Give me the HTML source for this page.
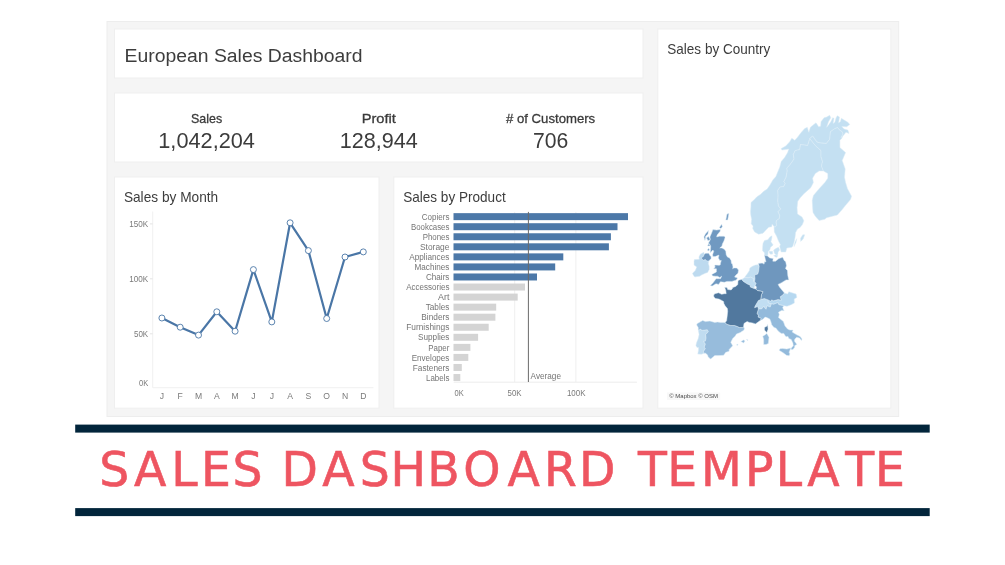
<!DOCTYPE html>
<html lang="en"><head><meta charset="utf-8"><title>Sales Dashboard Template</title>
<style>
html,body{margin:0;padding:0;background:#fff;}
body{width:1005px;height:565px;overflow:hidden;position:relative;font-family:"Liberation Sans",sans-serif;}
svg{position:absolute;left:0;top:0;display:block;}
text{font-family:"Liberation Sans",sans-serif;}
.pt{fill:#3d3d3d;}
.ax{fill:#7a7a7a;font-size:8.6px;}
.lb{fill:#757575;font-size:8.9px;}
.kl{fill:#3a3a3a;font-size:13.5px;stroke:#3a3a3a;stroke-width:.3px;}
.kv{fill:#3c3c3c;font-size:21.8px;}
.hl{font-family:"DejaVu Sans","Liberation Sans",sans-serif;}
</style></head><body>
<svg width="1005" height="565" viewBox="0 0 1005 565">

<g id="dashboard-frame">
<rect x="107" y="21.5" width="791.7" height="395" fill="#f5f5f5" stroke="#ededed" stroke-width="1"/>
<rect x="114.5" y="29.0" width="528.5" height="49.0" fill="#fff" stroke="#efefef" stroke-width="1"/>
<rect x="114.5" y="93.0" width="528.5" height="69.0" fill="#fff" stroke="#efefef" stroke-width="1"/>
<rect x="114.5" y="177.0" width="264.5" height="231.2" fill="#fff" stroke="#efefef" stroke-width="1"/>
<rect x="393.8" y="177.0" width="249.2" height="231.2" fill="#fff" stroke="#efefef" stroke-width="1"/>
<rect x="657.8" y="29.0" width="233.0" height="379.2" fill="#fff" stroke="#efefef" stroke-width="1"/>
</g>
<g id="panel-titles">
<text class="pt" x="124.5" y="61.6" font-size="19.2" textLength="238" lengthAdjust="spacingAndGlyphs">European Sales Dashboard</text>
<text class="pt" x="123.9" y="201.8" font-size="14.4" textLength="94.3" lengthAdjust="spacingAndGlyphs">Sales by Month</text>
<text class="pt" x="403.2" y="202.1" font-size="14.4" textLength="102.5" lengthAdjust="spacingAndGlyphs">Sales by Product</text>
<text class="pt" x="667.3" y="53.9" font-size="14.2" textLength="103" lengthAdjust="spacingAndGlyphs">Sales by Country</text>
</g>
<g id="kpis">
<text class="kl" x="206.6" y="123.1" text-anchor="middle" textLength="31.1" lengthAdjust="spacingAndGlyphs">Sales</text>
<text class="kv" x="206.6" y="148.2" text-anchor="middle" textLength="96.7" lengthAdjust="spacingAndGlyphs">1,042,204</text>
<text class="kl" x="378.8" y="123.1" text-anchor="middle" textLength="34.2" lengthAdjust="spacingAndGlyphs">Profit</text>
<text class="kv" x="378.8" y="148.2" text-anchor="middle" textLength="78.0" lengthAdjust="spacingAndGlyphs">128,944</text>
<text class="kl" x="550.6" y="123.1" text-anchor="middle" textLength="89.1" lengthAdjust="spacingAndGlyphs"># of Customers</text>
<text class="kv" x="550.6" y="148.2" text-anchor="middle" textLength="35.3" lengthAdjust="spacingAndGlyphs">706</text>
</g>
<g id="sales-by-month">
<line x1="152.7" y1="211.5" x2="152.7" y2="387.7" stroke="#f0f0f0" stroke-width="1"/>
<line x1="152.7" y1="387.7" x2="373.4" y2="387.7" stroke="#f0f0f0" stroke-width="1"/>
<line x1="150" y1="223.9" x2="152.7" y2="223.9" stroke="#e4e4e4" stroke-width="1"/>
<text class="ax" x="148.2" y="226.9" text-anchor="end" textLength="19.0" lengthAdjust="spacingAndGlyphs">150K</text>
<line x1="150" y1="278.8" x2="152.7" y2="278.8" stroke="#e4e4e4" stroke-width="1"/>
<text class="ax" x="148.2" y="281.8" text-anchor="end" textLength="19.0" lengthAdjust="spacingAndGlyphs">100K</text>
<line x1="150" y1="333.8" x2="152.7" y2="333.8" stroke="#e4e4e4" stroke-width="1"/>
<text class="ax" x="148.2" y="336.8" text-anchor="end" textLength="14.2" lengthAdjust="spacingAndGlyphs">50K</text>
<text class="ax" x="148.2" y="385.9" text-anchor="end" textLength="9.2" lengthAdjust="spacingAndGlyphs">0K</text>
<polyline fill="none" stroke="#4a76a6" stroke-width="2.2" stroke-linejoin="round" points="161.9,318.0 180.2,327.2 198.5,335.1 216.8,311.8 235.1,331.2 253.4,269.6 271.8,321.9 290.1,222.8 308.4,250.6 326.7,318.5 345.0,257.0 363.3,251.9"/>
<circle cx="161.9" cy="318.0" r="3" fill="#fff" stroke="#4a76a6" stroke-width="0.9"/>
<circle cx="180.2" cy="327.2" r="3" fill="#fff" stroke="#4a76a6" stroke-width="0.9"/>
<circle cx="198.5" cy="335.1" r="3" fill="#fff" stroke="#4a76a6" stroke-width="0.9"/>
<circle cx="216.8" cy="311.8" r="3" fill="#fff" stroke="#4a76a6" stroke-width="0.9"/>
<circle cx="235.1" cy="331.2" r="3" fill="#fff" stroke="#4a76a6" stroke-width="0.9"/>
<circle cx="253.4" cy="269.6" r="3" fill="#fff" stroke="#4a76a6" stroke-width="0.9"/>
<circle cx="271.8" cy="321.9" r="3" fill="#fff" stroke="#4a76a6" stroke-width="0.9"/>
<circle cx="290.1" cy="222.8" r="3" fill="#fff" stroke="#4a76a6" stroke-width="0.9"/>
<circle cx="308.4" cy="250.6" r="3" fill="#fff" stroke="#4a76a6" stroke-width="0.9"/>
<circle cx="326.7" cy="318.5" r="3" fill="#fff" stroke="#4a76a6" stroke-width="0.9"/>
<circle cx="345.0" cy="257.0" r="3" fill="#fff" stroke="#4a76a6" stroke-width="0.9"/>
<circle cx="363.3" cy="251.9" r="3" fill="#fff" stroke="#4a76a6" stroke-width="0.9"/>
<text class="ax" x="161.9" y="399.2" text-anchor="middle">J</text>
<text class="ax" x="180.2" y="399.2" text-anchor="middle">F</text>
<text class="ax" x="198.5" y="399.2" text-anchor="middle">M</text>
<text class="ax" x="216.8" y="399.2" text-anchor="middle">A</text>
<text class="ax" x="235.1" y="399.2" text-anchor="middle">M</text>
<text class="ax" x="253.4" y="399.2" text-anchor="middle">J</text>
<text class="ax" x="271.8" y="399.2" text-anchor="middle">J</text>
<text class="ax" x="290.1" y="399.2" text-anchor="middle">A</text>
<text class="ax" x="308.4" y="399.2" text-anchor="middle">S</text>
<text class="ax" x="326.7" y="399.2" text-anchor="middle">O</text>
<text class="ax" x="345.0" y="399.2" text-anchor="middle">N</text>
<text class="ax" x="363.3" y="399.2" text-anchor="middle">D</text>
</g>
<g id="sales-by-product">
<line x1="514.7" y1="211.9" x2="514.7" y2="382" stroke="#efefef" stroke-width="1"/>
<line x1="575.9" y1="211.9" x2="575.9" y2="382" stroke="#efefef" stroke-width="1"/>
<line x1="453.7" y1="382.2" x2="636.9" y2="382.2" stroke="#ececec" stroke-width="1"/>
<rect x="453.5" y="213.15" width="174.5" height="7" fill="#4c78a8"/>
<text class="lb" x="449.4" y="219.8" text-anchor="end" textLength="27.6" lengthAdjust="spacingAndGlyphs">Copiers</text>
<rect x="453.5" y="223.21" width="164.0" height="7" fill="#4c78a8"/>
<text class="lb" x="449.4" y="229.8" text-anchor="end" textLength="38.4" lengthAdjust="spacingAndGlyphs">Bookcases</text>
<rect x="453.5" y="233.26" width="157.4" height="7" fill="#4c78a8"/>
<text class="lb" x="449.4" y="239.9" text-anchor="end" textLength="26.7" lengthAdjust="spacingAndGlyphs">Phones</text>
<rect x="453.5" y="243.31" width="155.4" height="7" fill="#4c78a8"/>
<text class="lb" x="449.4" y="249.9" text-anchor="end" textLength="29.4" lengthAdjust="spacingAndGlyphs">Storage</text>
<rect x="453.5" y="253.37" width="109.8" height="7" fill="#4c78a8"/>
<text class="lb" x="449.4" y="260.0" text-anchor="end" textLength="40.2" lengthAdjust="spacingAndGlyphs">Appliances</text>
<rect x="453.5" y="263.43" width="101.7" height="7" fill="#4c78a8"/>
<text class="lb" x="449.4" y="270.0" text-anchor="end" textLength="34.9" lengthAdjust="spacingAndGlyphs">Machines</text>
<rect x="453.5" y="273.48" width="83.5" height="7" fill="#4c78a8"/>
<text class="lb" x="449.4" y="280.1" text-anchor="end" textLength="23.4" lengthAdjust="spacingAndGlyphs">Chairs</text>
<rect x="453.5" y="283.53" width="71.5" height="7" fill="#d4d4d4"/>
<text class="lb" x="449.4" y="290.1" text-anchor="end" textLength="43.2" lengthAdjust="spacingAndGlyphs">Accessories</text>
<rect x="453.5" y="293.59" width="64.2" height="7" fill="#d4d4d4"/>
<text class="lb" x="449.4" y="300.2" text-anchor="end" textLength="11.3" lengthAdjust="spacingAndGlyphs">Art</text>
<rect x="453.5" y="303.64" width="42.7" height="7" fill="#d4d4d4"/>
<text class="lb" x="449.4" y="310.2" text-anchor="end" textLength="23.7" lengthAdjust="spacingAndGlyphs">Tables</text>
<rect x="453.5" y="313.70" width="41.9" height="7" fill="#d4d4d4"/>
<text class="lb" x="449.4" y="320.3" text-anchor="end" textLength="28.1" lengthAdjust="spacingAndGlyphs">Binders</text>
<rect x="453.5" y="323.75" width="35.2" height="7" fill="#d4d4d4"/>
<text class="lb" x="449.4" y="330.4" text-anchor="end" textLength="43.2" lengthAdjust="spacingAndGlyphs">Furnishings</text>
<rect x="453.5" y="333.81" width="24.6" height="7" fill="#d4d4d4"/>
<text class="lb" x="449.4" y="340.4" text-anchor="end" textLength="31.3" lengthAdjust="spacingAndGlyphs">Supplies</text>
<rect x="453.5" y="343.87" width="16.9" height="7" fill="#d4d4d4"/>
<text class="lb" x="449.4" y="350.5" text-anchor="end" textLength="21.1" lengthAdjust="spacingAndGlyphs">Paper</text>
<rect x="453.5" y="353.92" width="14.8" height="7" fill="#d4d4d4"/>
<text class="lb" x="449.4" y="360.5" text-anchor="end" textLength="37.7" lengthAdjust="spacingAndGlyphs">Envelopes</text>
<rect x="453.5" y="363.98" width="8.3" height="7" fill="#d4d4d4"/>
<text class="lb" x="449.4" y="370.6" text-anchor="end" textLength="36.6" lengthAdjust="spacingAndGlyphs">Fasteners</text>
<rect x="453.5" y="374.03" width="6.8" height="7" fill="#d4d4d4"/>
<text class="lb" x="449.4" y="380.6" text-anchor="end" textLength="23.4" lengthAdjust="spacingAndGlyphs">Labels</text>
<line x1="528.4" y1="211.9" x2="528.4" y2="382" stroke="#6b6b6b" stroke-width="1"/>
<text class="lb" x="530.6" y="379.4" style="font-size:8.6px" textLength="30.4" lengthAdjust="spacingAndGlyphs">Average</text>
<text class="ax" x="454.6" y="396.1" textLength="9.2" lengthAdjust="spacingAndGlyphs">0K</text>
<text class="ax" x="514.6" y="396.1" text-anchor="middle" textLength="14" lengthAdjust="spacingAndGlyphs">50K</text>
<text class="ax" x="576.2" y="396.1" text-anchor="middle" textLength="18.6" lengthAdjust="spacingAndGlyphs">100K</text>
</g>
<g id="sales-by-country" stroke="#dcecf7" stroke-width="0.5" stroke-linejoin="round">
<path d="M758.6 234.2 L754.6 231.9 L752.7 228.6 L753.1 226.1 L751.2 223.8 L751.6 219.3 L750.7 214.7 L750.5 211.6 L750.9 206.9 L751.0 202.5 L754.3 199.6 L756.9 196.7 L760.3 194.6 L763.7 191.3 L767.1 189.1 L769.8 185.2 L772.8 180.0 L775.9 176.4 L777.8 171.8 L779.7 167.2 L781.2 161.5 L784.6 157.6 L787.6 152.6 L788.8 149.1 L781.9 150.1 L781.2 148.6 L785.7 146.1 L789.5 141.9 L791.8 138.2 L794.8 140.3 L797.5 137.2 L800.9 132.8 L804.7 128.5 L807.3 127.3 L808.8 132.3 L810.4 127.3 L812.2 125.7 L816.0 122.8 L818.7 126.8 L820.6 126.2 L821.0 121.7 L824.0 117.7 L826.6 117.1 L829.7 115.3 L830.8 117.7 L828.5 121.7 L826.6 127.3 L828.9 124.5 L831.2 121.1 L832.7 117.7 L834.0 118.3 L833.1 123.4 L834.8 122.3 L836.1 117.7 L837.3 115.7 L839.5 117.1 L838.6 122.8 L840.3 121.7 L841.4 118.3 L844.1 120.0 L847.9 122.3 L849.8 124.5 L846.7 126.8 L841.8 126.6 L844.1 129.0 L847.9 130.1 L849.0 133.4 L846.0 132.3 L842.9 136.1 L841.5 138.7 L841.1 137.2 L842.9 133.9 L842.2 131.8 L839.5 130.1 L837.6 127.5 L834.2 129.0 L830.4 131.8 L829.7 139.3 L826.3 143.5 L819.8 142.9 L816.8 141.9 L812.6 136.1 L809.8 138.6 L807.7 145.5 L800.5 144.5 L799.7 149.6 L795.2 150.6 L793.3 154.6 L794.1 159.0 L790.3 164.3 L786.9 168.1 L787.2 170.9 L786.1 177.3 L783.8 181.7 L785.3 183.1 L783.8 186.5 L780.0 187.0 L777.8 190.4 L778.1 195.5 L777.8 201.2 L778.5 206.1 L780.8 208.9 L778.1 211.6 L779.7 215.5 L779.3 218.6 L776.6 220.5 L776.2 222.3 L776.6 225.3 L775.1 227.2 L774.0 226.4 L772.1 224.2 L771.7 226.8 L768.7 227.2 L766.0 230.1 L763.0 233.3Z" fill="#c4e0f2"/>
<path d="M774.0 226.4 L775.1 227.2 L776.6 225.3 L776.2 222.3 L776.6 220.5 L779.3 218.6 L779.7 215.5 L778.1 211.6 L780.8 208.9 L778.5 206.1 L777.8 201.2 L778.1 195.5 L777.8 190.4 L780.0 187.0 L783.8 186.5 L785.3 183.1 L783.8 181.7 L786.1 177.3 L787.2 170.9 L786.9 168.1 L790.3 164.3 L794.1 159.0 L793.3 154.6 L795.2 150.6 L799.7 149.6 L800.5 144.5 L807.7 145.5 L809.8 138.6 L815.3 145.5 L821.0 150.6 L821.0 156.6 L822.5 161.5 L821.5 166.2 L823.4 170.9 L819.1 170.9 L815.3 173.6 L812.6 178.2 L813.4 182.6 L810.7 187.8 L807.7 190.4 L803.9 193.8 L800.1 198.0 L797.8 201.2 L797.1 207.7 L797.5 214.0 L802.0 217.0 L803.9 220.8 L802.4 224.6 L800.1 227.5 L797.5 229.0 L795.6 232.6 L795.2 236.2 L794.4 241.1 L792.9 245.9 L791.8 247.3 L786.9 248.0 L786.1 250.7 L785.7 252.0 L781.2 252.0 L780.8 250.7 L779.7 246.6 L780.4 244.6 L778.5 241.1 L776.6 236.2 L774.3 231.9ZM800.7 241.4 L800.5 238.3 L802.8 234.8 L804.7 234.8 L803.2 239.0ZM794.1 246.6 L794.8 242.5 L796.7 238.7 L796.0 242.5Z" fill="#c4e0f2"/>
<path d="M823.4 170.9 L821.5 166.2 L822.5 161.5 L821.0 156.6 L821.0 150.6 L815.3 145.5 L809.8 138.6 L812.6 136.1 L816.8 141.9 L819.8 142.9 L826.3 143.5 L829.7 139.3 L830.4 131.8 L834.2 129.0 L837.6 127.5 L839.5 130.1 L842.2 131.8 L842.9 133.9 L841.1 137.2 L841.5 138.7 L839.9 140.3 L839.9 147.6 L845.6 152.6 L842.2 160.5 L845.2 169.0 L844.5 177.3 L845.6 182.6 L847.5 188.7 L851.6 196.3 L850.5 199.6 L845.6 205.3 L841.8 210.1 L837.3 215.1 L832.3 216.3 L826.6 217.8 L824.8 219.3 L819.1 220.5 L815.3 216.3 L813.0 212.4 L812.6 207.7 L812.2 200.4 L813.4 195.5 L819.1 188.7 L824.8 182.6 L827.8 178.2 L827.8 173.6Z" fill="#c4e0f2"/>
<path d="M764.5 255.3 L764.5 252.7 L762.6 251.0 L762.6 247.3 L763.0 243.2 L764.5 240.4 L767.9 239.7 L769.8 236.9 L772.1 235.8 L771.7 239.0 L770.9 241.8 L773.2 244.9 L770.6 247.3 L769.8 250.0 L768.3 251.3 L767.9 254.7 L767.5 256.0ZM769.0 251.3 L772.5 251.3 L772.8 254.0 L770.6 254.3 L769.4 253.0ZM773.6 250.0 L776.2 248.3 L778.5 247.3 L779.7 250.0 L778.1 252.0 L777.8 254.7 L776.2 255.0 L774.3 253.3ZM773.6 255.6 L775.5 257.0 L777.0 257.3 L777.8 255.3 L775.5 255.0Z" fill="#c6e1f3"/>
<path d="M708.8 260.9 L706.9 260.9 L705.4 259.6 L703.1 260.2 L701.2 257.9 L703.5 256.3 L704.2 254.3 L703.9 252.3 L700.4 254.0 L698.9 257.0 L699.3 259.2 L694.4 259.6 L694.0 261.2 L694.0 265.0 L696.7 266.9 L695.9 269.1 L695.1 270.7 L692.5 273.2 L693.2 275.0 L694.8 277.1 L695.9 276.8 L699.7 276.2 L701.6 275.0 L705.4 273.2 L707.6 272.5 L709.2 269.4 L709.2 266.3 L708.4 263.8Z" fill="#bddaef"/>
<path d="M710.3 285.5 L712.2 286.1 L716.0 283.8 L718.6 284.4 L720.5 281.7 L724.3 282.3 L727.0 281.4 L731.9 281.4 L735.7 280.2 L737.2 279.0 L737.2 277.8 L734.6 277.1 L735.7 275.3 L738.0 273.2 L738.5 270.1 L736.8 268.0 L733.8 267.9 L732.7 268.8 L733.0 266.9 L732.3 263.8 L731.5 263.4 L731.1 260.5 L729.6 257.9 L727.4 257.0 L726.2 254.7 L725.8 251.3 L724.3 249.3 L722.0 248.0 L719.8 248.0 L722.0 245.9 L722.4 243.9 L723.9 241.1 L725.1 237.6 L724.3 236.2 L719.4 236.2 L716.7 236.9 L717.1 235.1 L720.2 231.2 L720.3 229.4 L716.7 230.1 L712.9 229.6 L711.8 232.6 L709.9 236.9 L710.3 239.7 L708.4 243.2 L710.7 245.9 L710.3 252.7 L712.9 250.0 L713.7 251.3 L712.6 254.7 L712.9 256.6 L715.2 256.6 L718.3 255.3 L719.0 255.3 L718.3 257.9 L719.8 260.5 L721.3 260.5 L720.5 263.1 L720.2 265.0 L719.0 265.3 L715.6 265.0 L714.5 265.7 L715.2 266.9 L713.7 268.8 L716.4 268.8 L716.4 271.9 L714.1 273.2 L711.8 274.4 L712.6 275.9 L715.6 276.2 L717.5 276.2 L719.8 277.5 L721.7 276.2 L720.5 278.7 L716.0 278.7 L714.8 280.5 L712.9 282.9ZM711.1 258.6 L711.1 256.6 L709.9 255.6 L708.8 253.3 L705.7 253.3 L704.2 254.3 L703.5 256.3 L701.2 257.9 L703.1 260.2 L705.4 259.6 L706.9 260.9 L708.8 260.9ZM705.0 240.4 L703.9 236.9 L705.4 234.0 L708.4 230.4 L708.0 234.0 L705.7 236.2ZM708.0 240.7 L706.5 237.9 L708.4 236.5 L710.3 239.4ZM719.4 227.5 L721.7 224.2 L722.4 226.8 L720.9 228.6ZM725.8 220.1 L727.0 214.0 L728.9 213.6 L727.7 220.1ZM707.6 245.9 L708.8 243.5 L710.3 244.9 L709.5 245.9ZM707.3 250.0 L708.8 248.3 L709.5 250.0 L708.4 250.7Z" fill="#7099c1"/>
<path d="M698.3 330.3 L700.8 329.1 L701.6 330.4 L704.6 330.1 L707.3 329.8 L708.4 331.6 L705.7 334.6 L706.1 338.1 L705.4 341.1 L703.5 341.4 L705.4 344.1 L704.2 347.2 L705.4 348.4 L703.5 351.5 L703.9 353.2 L701.6 354.2 L697.8 354.1 L698.5 349.9 L698.5 347.5 L697.0 347.5 L695.9 345.6 L696.5 342.8 L698.2 338.6 L699.1 334.6Z" fill="#c0dcf0"/>
<path d="M725.2 322.5 L720.5 322.4 L717.5 322.0 L714.8 322.4 L709.9 321.1 L705.4 321.6 L702.7 320.4 L700.4 321.8 L697.0 323.7 L696.7 325.0 L698.2 327.5 L698.3 330.3 L700.8 329.1 L701.6 330.4 L704.6 330.1 L707.3 329.8 L708.4 331.6 L705.7 334.6 L706.1 338.1 L705.4 341.1 L703.5 341.4 L705.4 344.1 L704.2 347.2 L705.4 348.4 L703.5 351.5 L703.9 353.2 L705.7 353.2 L707.6 355.1 L708.0 356.5 L709.2 357.9 L710.7 358.9 L711.6 358.2 L714.8 355.6 L718.6 355.6 L723.6 355.3 L725.8 352.3 L729.1 351.3 L729.2 349.4 L731.5 347.0 L732.7 345.8 L730.8 342.3 L732.7 338.6 L735.3 335.9 L736.4 334.1 L740.2 332.6 L744.0 330.1 L744.4 328.1 L743.9 327.4 L739.5 327.5 L737.4 326.5 L734.6 325.5 L730.8 325.5 L726.6 324.2ZM740.8 341.6 L743.6 339.9 L745.0 341.1 L743.5 343.1 L742.1 342.1ZM736.4 345.0 L738.0 344.1 L737.8 345.3ZM746.3 339.4 L748.2 339.9 L747.8 340.4Z" fill="#97bcdc"/>
<path d="M744.8 277.6 L745.2 276.5 L747.1 274.1 L749.3 270.7 L749.9 267.9 L752.4 266.3 L755.4 265.0 L758.1 264.7 L759.2 266.3 L758.6 271.3 L757.7 274.1 L754.6 275.0 L755.0 278.7 L754.6 281.4 L753.5 281.3 L753.9 279.0 L750.9 277.1 L748.2 277.8Z" fill="#c2def1"/>
<path d="M741.6 279.4 L744.8 277.6 L748.2 277.8 L750.9 277.1 L753.9 279.0 L753.5 281.3 L754.6 281.4 L756.2 283.8 L755.0 285.2 L753.9 288.5 L750.3 287.0 L750.1 285.2 L747.4 284.1 L743.3 281.4Z" fill="#c1ddf1"/>
<path d="M760.7 299.6 L764.3 298.5 L768.1 299.9 L768.3 302.7 L771.5 303.8 L770.2 307.1 L767.1 305.8 L766.0 309.3 L763.9 307.1 L763.9 306.0 L761.7 308.9 L758.4 309.0 L757.7 306.6 L754.6 307.7 L755.0 306.3 L758.4 300.5Z" fill="#c1def2"/>
<path d="M768.1 299.9 L770.6 301.3 L771.5 299.9 L773.6 300.8 L778.1 299.6 L781.2 300.2 L780.2 296.8 L782.7 295.1 L784.4 293.0 L787.6 294.0 L788.8 291.7 L792.9 293.1 L796.1 294.0 L796.9 297.4 L794.2 299.1 L794.4 303.0 L792.9 303.8 L791.2 304.7 L787.0 306.3 L783.8 305.7 L778.9 304.7 L777.9 302.6 L773.6 304.3 L771.5 303.8 L768.3 302.7Z" fill="#b6d8f0"/>
<path d="M760.3 320.4 L761.1 318.4 L758.1 317.1 L758.4 315.5 L757.1 313.4 L758.4 309.0 L761.7 308.9 L763.9 306.0 L763.9 307.1 L766.0 309.3 L767.1 305.8 L770.2 307.1 L771.5 303.8 L773.6 304.3 L777.9 302.6 L778.9 304.7 L783.8 305.7 L782.7 307.4 L783.4 309.6 L784.2 310.7 L781.5 310.4 L778.5 312.3 L779.3 314.4 L778.5 317.6 L783.4 321.6 L785.0 326.0 L787.6 329.1 L789.9 330.1 L793.1 330.1 L792.2 332.1 L796.3 334.6 L800.1 336.4 L802.0 338.9 L801.4 340.6 L799.7 338.1 L796.7 337.2 L794.8 339.1 L794.4 341.1 L796.9 344.5 L794.8 345.5 L794.6 347.5 L792.9 349.6 L791.2 349.6 L791.2 348.2 L793.3 345.8 L792.9 343.1 L791.2 339.4 L788.8 338.6 L788.0 336.4 L786.1 336.7 L785.0 335.4 L783.8 333.4 L781.2 333.4 L778.1 330.9 L775.9 328.1 L774.0 327.5 L771.7 324.7 L770.9 321.8 L769.8 319.0 L766.8 317.6 L765.1 317.1 L763.0 319.2ZM779.1 350.3 L780.0 348.7 L782.5 348.4 L786.9 349.1 L790.8 347.9 L789.1 352.3 L789.9 353.9 L789.1 355.8 L786.5 355.3 L783.1 352.7ZM766.8 333.4 L769.0 337.2 L768.3 343.6 L766.0 344.5 L763.7 344.5 L763.7 339.6 L762.8 336.2 L764.5 335.2Z" fill="#93badb"/>
<path d="M764.5 255.3 L767.5 256.0 L769.8 257.9 L773.2 258.6 L772.8 261.2 L775.5 261.2 L778.9 258.6 L782.7 257.3 L784.2 260.5 L785.7 261.7 L786.5 265.7 L785.5 268.5 L787.4 270.4 L787.8 275.6 L788.8 279.9 L786.1 279.9 L781.2 282.9 L778.1 284.4 L779.5 287.0 L784.4 293.0 L782.7 295.1 L780.2 296.8 L781.2 300.2 L778.1 299.6 L773.6 300.8 L771.5 299.9 L770.6 301.3 L768.1 299.9 L764.3 298.5 L760.7 299.6 L761.5 294.5 L763.0 291.8 L760.3 291.1 L757.3 290.5 L756.0 289.1 L756.5 287.0 L755.0 285.2 L756.2 283.8 L754.6 281.4 L755.0 278.7 L754.6 275.0 L757.7 274.1 L758.6 271.3 L759.2 266.3 L758.4 263.4 L762.2 263.1 L764.1 264.1 L764.5 261.8 L766.0 261.8 L765.3 259.2Z" fill="#6f97be"/>
<path d="M741.6 279.4 L743.3 281.4 L747.4 284.1 L750.1 285.2 L750.3 287.0 L753.9 288.5 L756.0 289.1 L757.3 290.5 L760.3 291.1 L763.0 291.8 L761.5 294.5 L760.7 299.6 L758.4 300.5 L755.0 306.3 L754.6 307.7 L757.7 306.6 L758.4 309.0 L757.1 313.4 L758.4 315.5 L758.1 317.1 L761.1 318.4 L760.3 320.4 L758.1 322.1 L755.4 323.9 L752.4 322.9 L749.3 322.4 L747.1 321.6 L744.0 323.4 L743.5 327.0 L743.9 327.4 L739.5 327.5 L737.4 326.5 L734.6 325.5 L730.8 325.5 L726.6 324.2 L725.2 322.5 L726.6 320.8 L727.2 316.0 L727.7 311.2 L727.4 308.5 L725.1 305.8 L723.9 303.6 L723.6 301.6 L721.3 300.2 L719.0 299.1 L715.6 298.5 L713.9 297.1 L713.7 295.1 L714.8 293.7 L718.6 292.8 L721.7 294.3 L724.3 293.7 L726.2 293.7 L725.8 290.5 L724.7 287.6 L727.0 287.6 L727.7 289.6 L731.1 289.9 L732.3 288.8 L732.7 287.6 L735.7 286.4 L737.8 284.6 L738.0 280.8 L739.1 280.1ZM767.5 324.4 L768.1 329.1 L766.8 332.6 L764.5 330.1 L764.5 327.5 L767.1 326.0Z" fill="#51789e"/>
</g>
<rect x="667" y="392.4" width="53.2" height="7.6" fill="#f8f8f8"/>
<text x="669.3" y="397.9" font-size="5.8" fill="#4a4a4a" textLength="48.6" lengthAdjust="spacingAndGlyphs">© Mapbox © OSM</text>
<g id="headline">
<rect x="75.2" y="424.6" width="854.5" height="8" fill="#02253b"/>
<rect x="75.2" y="508.1" width="854.5" height="8" fill="#02253b"/>
<text x="99.2 133.9 171.3 200.9 232.4 270.0 281.4 322.3 359.8 390.6 427.3 463.2 507.4 544.1 579.0 622.0 637.9 667.2 701.1 744.9 775.8 807.2 845.2 875.0" y="485.6" font-size="47.3" class="hl" fill="#ee5561" stroke="#ee5561" stroke-width="0.6" stroke-linejoin="miter">SALES DASHBOARD TEMPLATE</text>
</g>
</svg>
</body></html>
